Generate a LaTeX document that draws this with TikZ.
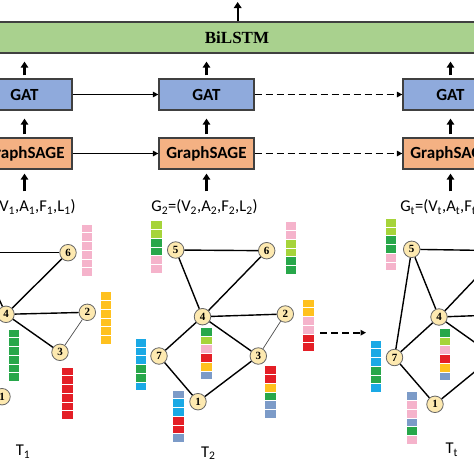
\documentclass[tikz,border=0pt]{standalone}
\usepackage{fontspec}
\setmainfont{Carlito}
\newfontfamily\timesfont{Liberation Serif}
\usepackage{tikz}
\usetikzlibrary{arrows.meta}

\definecolor{bilstmgreen}{HTML}{A9D18E}
\definecolor{gatblue}{HTML}{8FAADC}
\definecolor{sageorange}{HTML}{F4B183}
\definecolor{nodeyellow}{HTML}{FDE9B0}
\definecolor{pk}{HTML}{F5B3CB}
\definecolor{ye}{HTML}{FFC11E}
\definecolor{gr}{HTML}{27A74A}
\definecolor{yg}{HTML}{A6D43A}
\definecolor{rd}{HTML}{E41E26}
\definecolor{bl}{HTML}{1AA9E5}
\definecolor{sb}{HTML}{7C9BC8}

\begin{document}
\begin{tikzpicture}[x=1pt,y=-1pt]
            \tikzstyle{every node}+=[inner sep=0pt]
            \tikzstyle{layerbox}=[draw=black!75, line width=1.3pt, minimum width=95pt, minimum height=31pt, font=\fontsize{17}{20}\selectfont\bfseries]
            \tikzstyle{vnode}=[circle, draw=black!60, line width=0.8pt, fill=nodeyellow, minimum size=16.5pt, font=\timesfont\fontsize{11}{12}\selectfont\bfseries]
            \tikzstyle{graphedge}=[line width=1.4pt]
            \tikzstyle{thinedge}=[line width=0.7pt, black!70]
            \tikzstyle{uparrow}=[line width=2.2pt, -{Triangle[length=6pt,width=7.5pt]}]
            \tikzstyle{flow}=[line width=1.8pt, -{Triangle[length=5.5pt,width=5.5pt]}]
            \tikzstyle{dashflow}=[flow, dash pattern=on 7pt off 4pt]
            \tikzstyle{glabel}=[font=\fontsize{16.5}{20}\selectfont]
            \useasboundingbox (0,0) rectangle (474,474);
            \clip (0,0) rectangle (474,474);
            % layers
            \node[layerbox, fill=bilstmgreen, minimum width=490pt, font=\timesfont\fontsize{17}{20}\selectfont\bfseries] (bilstm) at (237,37.5) {BiLSTM};
            \coordinate (out) at (237.7,2);
            \node[layerbox, fill=gatblue] (gat1) at (24.5,94.5) {GAT};
            \node[layerbox, fill=gatblue] (gat2) at (206.5,94.5) {GAT};
            \node[layerbox, fill=gatblue] (gat3) at (450.5,94.5) {GAT};
            \node[layerbox, fill=sageorange] (sage1) at (24.5,153.5) {GraphSAGE};
            \node[layerbox, fill=sageorange] (sage2) at (206.5,153.5) {GraphSAGE};
            \node[layerbox, fill=sageorange] (sage3) at (450.5,153.5) {GraphSAGE};
            \node[glabel] (g1) at (22.5,207) {G\textsubscript{1}=(V\textsubscript{1},A\textsubscript{1},F\textsubscript{1},L\textsubscript{1})};
            \node[glabel] (g2) at (204.5,207) {G\textsubscript{2}=(V\textsubscript{2},A\textsubscript{2},F\textsubscript{2},L\textsubscript{2})};
            \node[glabel] (gt) at (448.5,207) {G\textsubscript{t}=(V\textsubscript{t},A\textsubscript{t},F\textsubscript{t},L\textsubscript{t})};
            \draw[uparrow] (bilstm.north -| out) -- (out);
            \draw[uparrow, shorten <=3pt, shorten >=8pt] (gat1.north) -- (gat1.north |- bilstm.south);
            \draw[uparrow, shorten <=3pt, shorten >=8pt] (gat2.north) -- (gat2.north |- bilstm.south);
            \draw[uparrow, shorten <=3pt, shorten >=8pt] (gat3.north) -- (gat3.north |- bilstm.south);
            \draw[uparrow, shorten <=3pt, shorten >=8pt] (sage1.north) -- (gat1.south);
            \draw[uparrow, shorten <=3pt, shorten >=8pt] (sage2.north) -- (gat2.south);
            \draw[uparrow, shorten <=3pt, shorten >=8pt] (sage3.north) -- (gat3.south);
            \draw[uparrow, shorten <=8pt, shorten >=4pt] (g1.north -| sage1) -- (sage1.south);
            \draw[uparrow, shorten <=8pt, shorten >=4pt] (g2.north -| sage2) -- (sage2.south);
            \draw[uparrow, shorten <=8pt, shorten >=4pt] (gt.north -| sage3) -- (sage3.south);
            \draw[flow] (gat1) -- (gat2);
            \draw[dashflow] (gat2) -- (gat3);
            \draw[flow] (sage1) -- (sage2);
            \draw[dashflow] (sage2) -- (sage3);
            % feature stacks
            \foreach \sx/\sy/\cols in {81/224/{pk,pk,pk,pk,pk,pk}, 100/291.7/{ye,ye,ye,ye,ye,ye},
                8/329/{gr,gr,gr,gr,gr,gr}, 61.7/367/{rd,rd,rd,rd,rd,rd},
                150.7/220.7/{yg,yg,gr,gr,pk,pk}, 285/221.7/{pk,pk,yg,yg,gr,gr},
                200.7/327.3/{gr,yg,pk,rd,ye,sb}, 302.7/299/{ye,ye,pk,pk,rd,rd},
                135/338.3/{bl,bl,bl,gr,gr,bl}, 172.7/390/{sb,bl,bl,rd,rd,sb},
                264.3/365.7/{rd,rd,ye,gr,sb,sb}, 385/218.3/{yg,yg,gr,gr,pk,pk},
                439/328.3/{gr,yg,pk,rd,ye,sb}, 370/340/{bl,bl,bl,gr,gr,bl},
                406/391.7/{sb,pk,pk,sb,gr,pk}}
                \foreach \col [count=\k from 0] in \cols
                    \fill[\col, draw=white, line width=0.6pt] (\sx,\sy+\k*8.7) rectangle ++(11.5,8.7);
            % graph T1
            \node[vnode] (a6) at (68,252.7) {6};
            \node[vnode] (a4) at (6,314.3) {4};
            \node[vnode] (a2) at (87.3,312.3) {2};
            \node[vnode] (a3) at (60,352.3) {3};
            \node[vnode] (a1) at (2,396.7) {1};
            \coordinate (a5) at (-22,252.7);
            \draw[graphedge] (a5) -- (a6);
            \draw[graphedge] (a5) -- (a4);
            \draw[graphedge] (a4) -- (a6);
            \draw[graphedge] (a4) -- (a2);
            \draw[graphedge] (a4) -- (a3);
            \draw[thinedge] (a3) -- (a2);
            \node[glabel] (t1) at (23,451.7) {T\textsubscript{1}};
            % graph T2
            \node[vnode] (b5) at (175.7,250) {5};
            \node[vnode] (b6) at (266.7,250.7) {6};
            \node[vnode] (b4) at (202.5,316.7) {4};
            \node[vnode] (b2) at (285.3,314) {2};
            \node[vnode] (b7) at (159,356) {7};
            \node[vnode] (b3) at (258.3,356) {3};
            \node[vnode] (b1) at (198,401.7) {1};
            \draw[graphedge] (b5) -- (b6);
            \draw[graphedge] (b5) -- (b4);
            \draw[graphedge] (b6) -- (b4);
            \draw[graphedge] (b4) -- (b2);
            \draw[graphedge] (b4) -- (b7);
            \draw[graphedge] (b4) -- (b3);
            \draw[thinedge] (b2) -- (b3);
            \draw[graphedge] (b7) -- (b1);
            \draw[graphedge] (b1) -- (b3);
            \node[glabel] (t2) at (208.3,453) {T\textsubscript{2}};
            \coordinate (d1) at (320,332.7);
            \coordinate (d2) at (366,332.7);
            \draw[dashflow] (d1) -- (d2);
            % graph Tt
            \node[vnode] (c5) at (411.7,249.3) {5};
            \node[vnode] (c4) at (439,317) {4};
            \node[vnode] (c7) at (394.5,357.5) {7};
            \node[vnode] (c1) at (435,404.3) {1};
            \coordinate (c6) at (502,250.7);
            \coordinate (c2) at (521,314);
            \coordinate (c3) at (494,356);
            \draw[graphedge] (c5) -- (c6);
            \draw[graphedge] (c5) -- (c4);
            \draw[graphedge] (c5) -- (c7);
            \draw[graphedge] (c4) -- (c7);
            \draw[graphedge] (c4) -- (c6);
            \draw[graphedge] (c4) -- (c2);
            \draw[graphedge] (c4) -- (c3);
            \draw[graphedge] (c7) -- (c1);
            \draw[graphedge] (c1) -- (c3);
            \node[glabel] (tt) at (451.7,450) {T\textsubscript{t}};
\end{tikzpicture}
\end{document}
